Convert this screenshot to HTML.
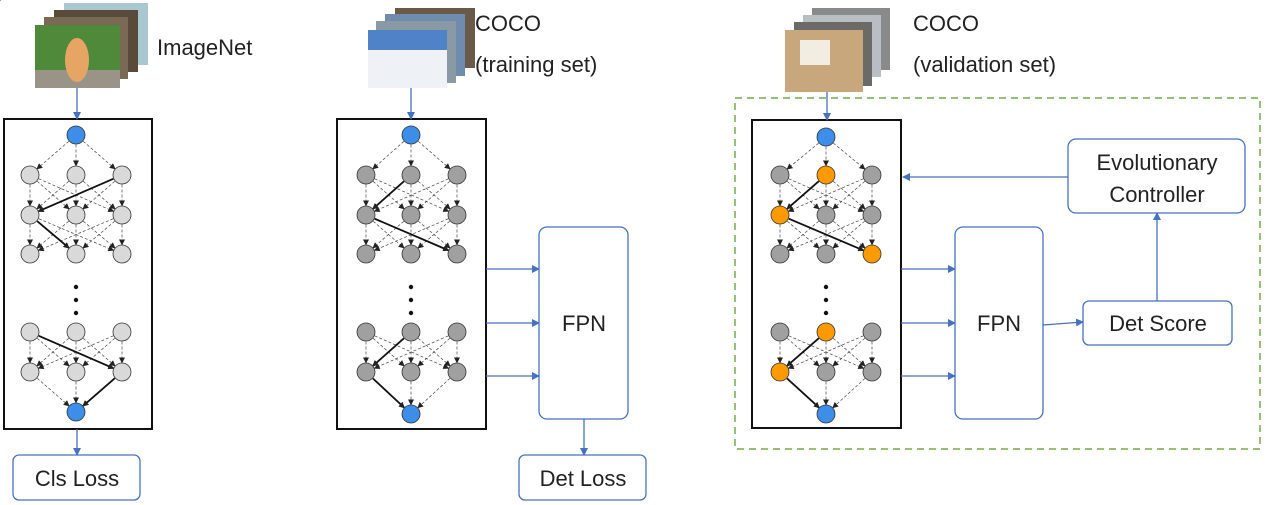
<!DOCTYPE html>
<html><head><meta charset="utf-8"><style>
body{margin:0;background:#fff;}
svg{display:block;font-family:"Liberation Sans","DejaVu Sans",sans-serif;}
</style></head><body>
<svg id="s" width="1266" height="505" viewBox="0 0 1266 505" xmlns="http://www.w3.org/2000/svg">
<defs>
<marker id="ab" markerWidth="8" markerHeight="8" refX="7" refY="4" orient="auto" markerUnits="userSpaceOnUse"><path d="M0,0 L8,4 L0,8 Z" fill="#4472c4"/></marker>
<marker id="ak" markerWidth="6" markerHeight="6" refX="5" refY="3" orient="auto" markerUnits="userSpaceOnUse"><path d="M0,0 L6,3 L0,6 Z" fill="#222"/></marker>
</defs>
<!-- green dashed -->
<rect x="735" y="98" width="525" height="351" fill="none" stroke="#70ad47" stroke-width="1.5" stroke-dasharray="7,5"/>
<!-- images stack 1 -->
<rect x="64" y="3" width="84" height="62" fill="#a9c7cf"/>
<rect x="54" y="10" width="84" height="62" fill="#5a4a3a"/>
<rect x="44" y="17" width="84" height="62" fill="#7a6a55"/>
<rect x="35" y="25" width="85" height="63" fill="#4f8a3a"/>
<rect x="35" y="70" width="85" height="18" fill="#9a9488"/>
<ellipse cx="77" cy="60" rx="12" ry="22" fill="#e6a565"/>
<text x="157" y="55" font-size="22" fill="#222">ImageNet</text>
<!-- images stack 2 -->
<rect x="395" y="8" width="80" height="60" fill="#6a5a4a"/>
<rect x="385" y="14" width="80" height="62" fill="#6f8cae"/>
<rect x="376" y="21" width="80" height="62" fill="#8a9aa5"/>
<rect x="368" y="30" width="79" height="58" fill="#eef2f7"/>
<rect x="368" y="30" width="79" height="20" fill="#4f82c6"/>
<text x="475" y="31" font-size="22" fill="#222">COCO</text>
<text x="475" y="72" font-size="22" fill="#222">(training set)</text>
<!-- images stack 3 -->
<rect x="812" y="8" width="78" height="62" fill="#8a8a8a"/>
<rect x="803" y="15" width="78" height="62" fill="#b9bdc4"/>
<rect x="794" y="22" width="78" height="64" fill="#6c6a66"/>
<rect x="785" y="30" width="78" height="62" fill="#c9a77d"/>
<rect x="800" y="40" width="30" height="25" fill="#f1ede2"/>
<text x="913" y="31" font-size="22" fill="#222">COCO</text>
<text x="913" y="72" font-size="22" fill="#222">(validation set)</text>

<g id="nets"></g>

<g fill="none" stroke="#4472c4" stroke-width="1.3">
<rect x="13" y="455" width="127" height="45" rx="6"/>
<rect x="539" y="227" width="89" height="192" rx="8"/>
<rect x="519" y="455" width="127" height="45" rx="6"/>
<rect x="955" y="227" width="88" height="192" rx="8"/>
<rect x="1083" y="301" width="149" height="44" rx="6"/>
<rect x="1068" y="139" width="177" height="74" rx="8"/>
</g>
<g stroke="#4472c4" stroke-width="1.3" marker-end="url(#ab)">
<line x1="77" y1="88" x2="77" y2="119"/>
<line x1="411" y1="88" x2="411" y2="119"/>
<line x1="827" y1="92" x2="827" y2="120"/>
<line x1="77" y1="429" x2="77" y2="455"/>
<line x1="584" y1="419" x2="584" y2="455"/>
<line x1="486" y1="269" x2="539" y2="269"/>
<line x1="486" y1="323" x2="539" y2="323"/>
<line x1="486" y1="376" x2="539" y2="376"/>
<line x1="901" y1="269" x2="955" y2="269"/>
<line x1="901" y1="323" x2="955" y2="323"/>
<line x1="901" y1="376" x2="955" y2="376"/>
<line x1="1043" y1="325" x2="1083" y2="322"/>
<line x1="1157" y1="301" x2="1157" y2="213"/>
<line x1="1068" y1="177" x2="903" y2="177"/>
</g>
<g font-size="22" fill="#222" text-anchor="middle">
<text x="77" y="486">Cls Loss</text>
<text x="584" y="331">FPN</text>
<text x="583" y="486">Det Loss</text>
<text x="999" y="331">FPN</text>
<text x="1158" y="331">Det Score</text>
<text x="1157" y="170">Evolutionary</text>
<text x="1157" y="202">Controller</text>
</g>
</svg>
<script>
(function(){
var NS="http://www.w3.org/2000/svg",g=document.getElementById("nets");
function el(t,a){var e=document.createElementNS(NS,t);for(var k in a)e.setAttribute(k,a[k]);g.appendChild(e);return e;}
var nets=[
 {bx:4,by:119,bw:148,bh:310,cx:[30,76,122],top:[76,135],bot:[76,412],fill:"#d9d9d9",
  thick:[["T",1],[[1,2],[2,0]],[[2,0],[3,1]],[[4,0],[5,2]],[[5,2],"B"]],orange:[]},
 {bx:337,by:119,bw:149,bh:310,cx:[366,411,457],top:[411,135],bot:[411,414],fill:"#a0a0a0",
  thick:[["T",1],[[1,1],[2,0]],[[2,0],[3,2]],[[4,1],[5,0]],[[5,0],"B"]],orange:[]},
 {bx:752,by:120,bw:149,bh:308,cx:[780,826,872],top:[826,137],bot:[826,414],fill:"#a0a0a0",
  thick:[["T",1],[[1,1],[2,0]],[[2,0],[3,2]],[[4,1],[5,0]],[[5,0],"B"]],orange:["1,1","2,0","3,2","4,1","5,0"]}
];
var rows={1:175,2:215,3:254,4:332,5:372};
nets.forEach(function(n){
 el("rect",{x:n.bx,y:n.by,width:n.bw,height:n.bh,fill:"none",stroke:"#111","stroke-width":2});
 function P(p){if(p==="T")return n.top;if(p==="B")return n.bot;return [n.cx[p[1]],rows[p[0]]];}
 function edge(a,b,thick){var A=P(a),B=P(b),dx=B[0]-A[0],dy=B[1]-A[1],L=Math.sqrt(dx*dx+dy*dy),r=9.5;
  el("line",{x1:A[0]+dx/L*r,y1:A[1]+dy/L*r,x2:B[0]-dx/L*r,y2:B[1]-dy/L*r,stroke:thick?"#111":"#444","stroke-width":thick?1.8:0.7,"stroke-dasharray":thick?"":"3,2","marker-end":"url(#ak)"});}
 for(var c=0;c<3;c++)edge("T",[1,c]);
 [[1,2],[2,3],[4,5]].forEach(function(rr){for(var i=0;i<3;i++)for(var j=0;j<3;j++)edge([rr[0],i],[rr[1],j]);});
 for(c=0;c<3;c++)edge([5,c],"B");
 n.thick.forEach(function(t){edge(t[0],t[1],true);});
 el("circle",{cx:n.top[0],cy:n.top[1],r:9,fill:"#3d8ee8",stroke:"#333","stroke-width":0.8});
 el("circle",{cx:n.bot[0],cy:n.bot[1],r:9,fill:"#3d8ee8",stroke:"#333","stroke-width":0.8});
 for(var r=1;r<=5;r++)for(c=0;c<3;c++){
  var o=n.orange.indexOf(r+","+c)>=0;
  el("circle",{cx:n.cx[c],cy:rows[r],r:9,fill:o?"#ff9900":n.fill,stroke:"#333","stroke-width":0.8});}
 [287,300,313].forEach(function(y){el("circle",{cx:n.cx[1],cy:y,r:2.2,fill:"#111"});});
});
})();
</script>
</body></html>
